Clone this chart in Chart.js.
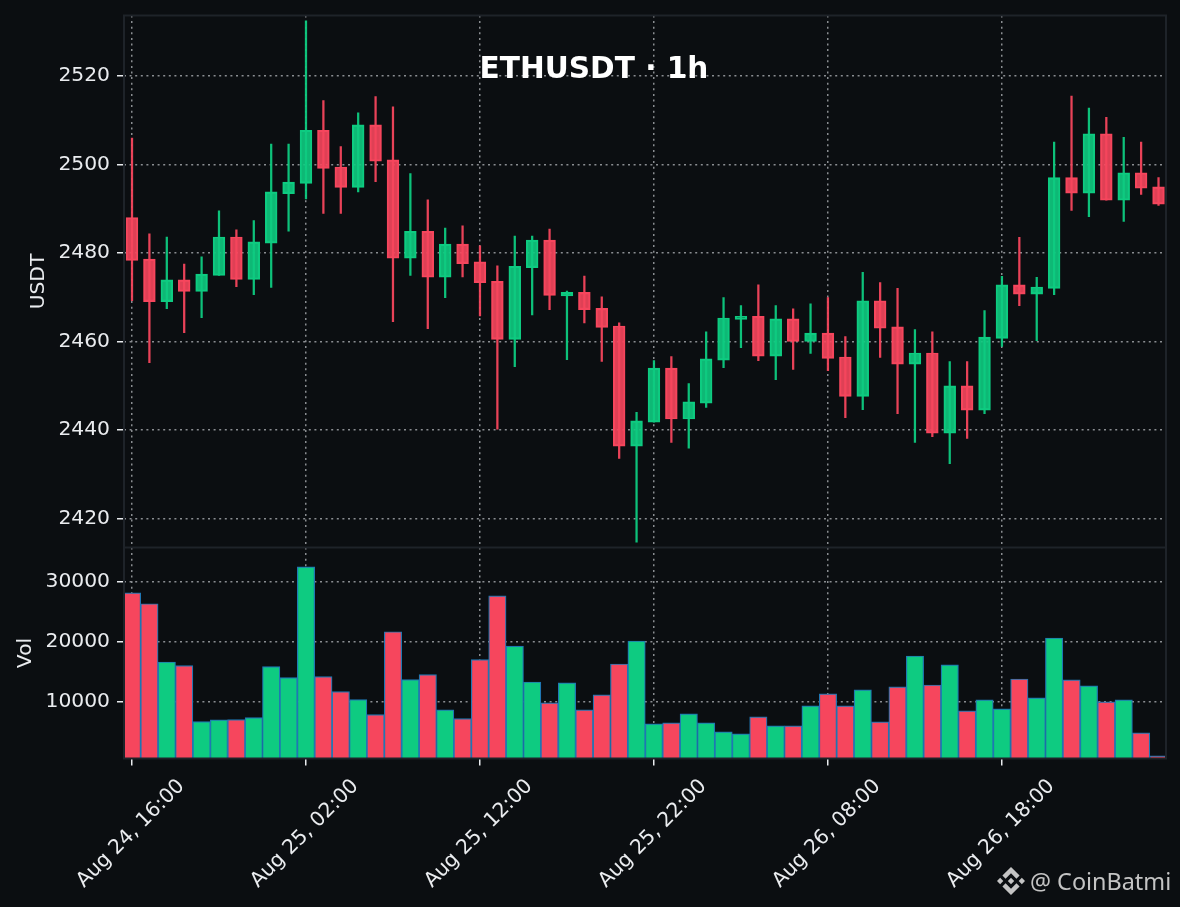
<!DOCTYPE html>
<html>
<head>
<meta charset="utf-8">
<title>ETHUSDT 1h</title>
<script src="https://cdn.jsdelivr.net/npm/chart.js@4"></script>
<style>
    html, body { margin: 0; padding: 0; background: #0b0e11; }
    #wrap { position: relative; width: 1180px; height: 907px; overflow: hidden; }
    #titulo { position: absolute; left: 394px; width: 400px; top: 49px; text-align: center; color: #fff;
        font: bold 29.6px "DejaVu Sans"; line-height: 38px; }
    #marca { position: absolute; left: 997px; top: 865px; color: #c4c4c4; display: flex; align-items: center;
        font: 23.4px "Noto Sans"; line-height: 32px; white-space: nowrap; }
    #marca svg { margin-right: 5px; }
</style>
</head>
<body>
<div id="wrap">
    <canvas id="myChart" width="1180" height="907"></canvas>
    <div id="titulo">ETHUSDT · 1h</div>
    <div id="marca">
        <svg width="28" height="28" viewBox="0 0 126.61 126.61" fill="#c4c4c4">
            <path d="M38.73 53.2l24.59-24.58 24.6 24.6 14.3-14.31L63.32 0 24.43 38.9zM0 63.31l14.3-14.31 14.31 14.31-14.31 14.3zM38.73 73.41l24.59 24.59 24.6-24.6 14.31 14.29-38.9 38.91-38.91-38.88-.01-.01zM98 63.31l14.3-14.31 14.31 14.3-14.31 14.32zM77.83 63.3L63.32 48.78 52.59 59.51l-1.24 1.23-2.54 2.54 14.51 14.5 14.51-14.47z"/>
        </svg>
        <span>@ CoinBatmi</span>
    </div>
</div>
<script>
const etiquetas = ['Aug 24, 16:00', 'Aug 25, 02:00', 'Aug 25, 12:00', 'Aug 25, 22:00', 'Aug 26, 08:00', 'Aug 26, 18:00'];
const ticksTiempo = [0, 10, 20, 30, 40, 50];
const ticksPrecio = [2420, 2440, 2460, 2480, 2500, 2520];
const ticksVol = [10000, 20000, 30000];

const apertura = [2488, 2478.6, 2469, 2473.9, 2471.3, 2474.9, 2483.6, 2474, 2482.2, 2493.4,
    2495.7, 2507.7, 2499.4, 2494.8, 2508.9, 2501, 2478.8, 2484.9, 2474.5, 2482,
    2478, 2473.6, 2460.5, 2476.7, 2482.9, 2470.3, 2471.1, 2467.5, 2463.5, 2436.4,
    2441.8, 2454, 2442.5, 2446.1, 2455.8, 2465, 2465.7, 2456.7, 2465.1, 2460,
    2461.9, 2456.5, 2447.6, 2469.2, 2463.3, 2454.9, 2457.4, 2439.3, 2450, 2444.5,
    2460.7, 2472.8, 2470.7, 2472, 2497, 2493.5, 2506.9, 2491.9, 2498.1, 2494.9];
const cierre = [2478.3, 2469, 2473.9, 2471.3, 2475.2, 2483.6, 2474, 2482.5, 2493.8, 2496,
    2507.7, 2499.1, 2494.8, 2508.9, 2500.7, 2478.8, 2484.9, 2474.5, 2482, 2477.6,
    2473.3, 2460.5, 2477, 2482.9, 2470.4, 2471.1, 2467.2, 2463.2, 2436.4, 2442.1,
    2454, 2442.5, 2446.4, 2456.1, 2465.3, 2465.7, 2456.7, 2465.1, 2460, 2461.9,
    2456.2, 2447.6, 2469.2, 2463, 2454.9, 2457.4, 2439.3, 2450, 2444.5, 2461,
    2472.8, 2470.7, 2472.3, 2497, 2493.5, 2506.9, 2491.9, 2498.1, 2494.6, 2491];
const maximo = [2505.9, 2484.3, 2483.6, 2477.5, 2479.1, 2489.5, 2485.2, 2487.3, 2504.6, 2504.6,
    2532.4, 2514.4, 2504, 2511.6, 2515.3, 2513, 2497.9, 2492, 2485.6, 2486.1,
    2481.6, 2477.1, 2483.8, 2483.8, 2485.4, 2471.4, 2474.8, 2470.1, 2464.2, 2444,
    2455.7, 2456.6, 2450.5, 2462.2, 2469.9, 2468.1, 2472.8, 2468.1, 2467.4, 2468.5,
    2469.9, 2461.1, 2475.6, 2473.3, 2472, 2462.7, 2462.2, 2455.5, 2455.5, 2467,
    2474.7, 2483.5, 2474.5, 2505, 2515.4, 2512.7, 2510.6, 2506.1, 2505, 2497];
const minimo = [2469.2, 2455.2, 2467.4, 2462, 2465.4, 2474.9, 2472.4, 2470.6, 2472.2, 2484.9,
    2492.2, 2488.9, 2488.9, 2493.8, 2496.1, 2464.5, 2474.9, 2462.9, 2469.9, 2474.6,
    2465.8, 2440.2, 2454.3, 2466, 2467.2, 2455.9, 2464.2, 2455.5, 2433.6, 2414.7,
    2441.8, 2437.2, 2435.9, 2445.1, 2454.1, 2458.6, 2455.7, 2451.4, 2453.7, 2457.3,
    2453.4, 2442.8, 2444.6, 2456.4, 2443.7, 2437.2, 2438.5, 2432.4, 2438.1, 2443.7,
    2458.9, 2468.1, 2460.2, 2470.6, 2489.6, 2488.2, 2491.9, 2487.1, 2493.2, 2490.7];
const volumen = [28100, 26280, 16560, 15940, 6600, 6890, 6950, 7280, 15780, 13940,
    32440, 14110, 11610, 10280, 7780, 21610, 13610, 14440, 8560, 7110,
    16940, 27610, 19220, 13220, 9720, 13060, 8560, 11060, 16220, 20060,
    6220, 6390, 7890, 6390, 4890, 4560, 7390, 5890, 5890, 9220,
    11220, 9220, 11890, 6560, 12390, 17560, 12720, 16060, 8390, 10220,
    8720, 13720, 10560, 20560, 13560, 12560, 9890, 10220, 4720, 890];

const VERDE = '#0ecb81', ROJO = '#f6465d';
const colorVela = (i, a) => (cierre[i] >= apertura[i] ? 'rgba(14,203,129,' : 'rgba(246,70,93,') + a + ')';

// marco de los dos paneles, como los spines de matplotlib
const marco = {
    id: 'marco',
    afterDatasetsDraw(chart){
        const { ctx, chartArea: a, scales } = chart;
        ctx.save();
        ctx.strokeStyle = '#1e2329';
        ctx.lineWidth = 2;
        ctx.strokeRect(a.left, a.top, a.right - a.left, a.bottom - a.top);
        ctx.beginPath();
        ctx.moveTo(a.left, scales.y.bottom);
        ctx.lineTo(a.right, scales.y.bottom);
        ctx.stroke();
        ctx.restore();
    }
};

const rejilla = { color: '#8a8d91', lineWidth: 1.5, offset: false, tickColor: '#eaecef', tickLength: 7, tickWidth: 1.5 };
const bordePunteado = { display: false, dash: [2, 3.6] };
const fuente = { family: 'DejaVu Sans', size: 20.3 };

// el ancho fijo y sin el relleno automatico para que el area quede donde en la original
const ajustarY = (eje) => {
    eje.width = 124;
    eje.paddingTop = 0;
    eje.paddingBottom = 0;
};

const ctx = document.getElementById('myChart').getContext('2d');
const myChart = new Chart(ctx, {
    type: 'bar',
    data: {
        datasets: [
            {
                // mechas
                yAxisID: 'y',
                data: maximo.map((v, i) => ({ x: i, y: [minimo[i], v] })),
                backgroundColor: maximo.map((v, i) => colorVela(i, 0.95)),
                barThickness: 1.6,
                order: 2
            },
            {
                // cuerpos
                yAxisID: 'y',
                data: apertura.map((v, i) => ({ x: i, y: [v, cierre[i]] })),
                backgroundColor: apertura.map((v, i) => colorVela(i, 0.9)),
                borderColor: apertura.map((v, i) => colorVela(i, 1)),
                borderWidth: 1.5,
                borderSkipped: false,
                barThickness: 11.8,
                order: 1
            },
            {
                yAxisID: 'v',
                data: volumen.map((v, i) => ({ x: i, y: v })),
                backgroundColor: volumen.map((v, i) => cierre[i] >= apertura[i] ? VERDE : ROJO),
                borderColor: '#1f77b4',
                borderWidth: 1.2,
                borderSkipped: false,
                barThickness: 17.4,
                order: 3
            }
        ]
    },
    options: {
        responsive: false,
        animation: false,
        devicePixelRatio: 1,
        layout: { autoPadding: false, padding: { top: 15.5, right: 14, left: 0, bottom: 0 } },
        plugins: { legend: { display: false }, tooltip: { enabled: false } },
        datasets: { bar: { grouped: false } },
        scales: {
            x: {
                type: 'linear',
                offset: false,
                min: -0.46,
                max: 59.43,
                grid: rejilla,
                border: bordePunteado,
                afterBuildTicks: (eje) => { eje.ticks = ticksTiempo.map((v) => ({ value: v })); },
                afterFit: (eje) => {
                    eje.height = 148.5;
                    eje.paddingLeft = 0;
                    eje.paddingRight = 0;
                },
                ticks: {
                    color: '#eaecef',
                    font: fuente,
                    autoSkip: false,
                    minRotation: 45,
                    maxRotation: 45,
                    labelOffset: 49.5,
                    padding: 9,
                    callback: (v) => etiquetas[ticksTiempo.indexOf(v)]
                }
            },
            y: {
                stack: 'paneles',
                stackWeight: 532,
                weight: 2,
                min: 2413.5,
                max: 2533.6,
                grid: rejilla,
                border: bordePunteado,
                afterBuildTicks: (eje) => { eje.ticks = ticksPrecio.map((v) => ({ value: v })); },
                afterFit: ajustarY,
                title: { display: true, text: 'USDT', color: '#eaecef', font: fuente, padding: { top: 27, bottom: 0 } },
                ticks: { color: '#eaecef', font: fuente, padding: 7, callback: (v) => String(v) }
            },
            v: {
                stack: 'paneles',
                stackWeight: 211,
                weight: 1,
                min: 444,
                max: 35667,
                grid: rejilla,
                border: bordePunteado,
                afterBuildTicks: (eje) => { eje.ticks = ticksVol.map((v) => ({ value: v })); },
                afterFit: ajustarY,
                title: { display: true, text: 'Vol', color: '#eaecef', font: fuente, padding: { top: 14, bottom: 0 } },
                ticks: { color: '#eaecef', font: fuente, padding: 7, callback: (v) => String(v) }
            }
        }
    },
    plugins: [marco]
});
</script>
</body>
</html>
